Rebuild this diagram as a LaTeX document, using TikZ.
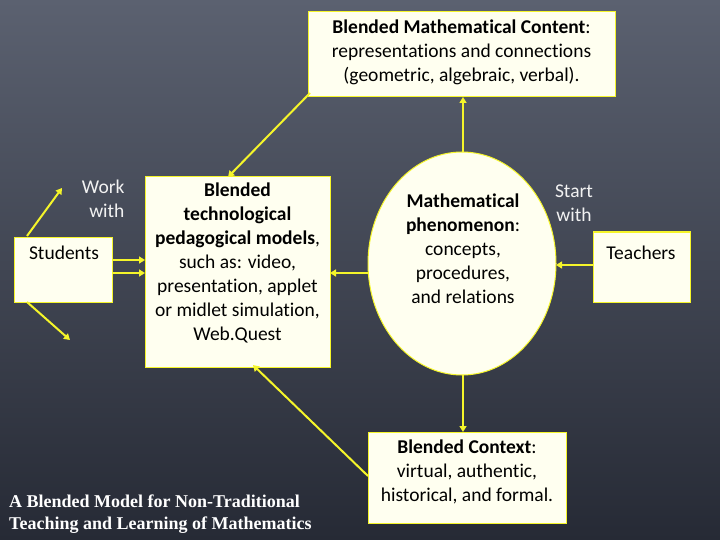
\documentclass[tikz,border=0pt]{standalone}
\usepackage{fontspec}
\setmainfont{Carlito}[Ligatures=NoCommon]
\newfontfamily\capfont{Liberation Serif}
\usetikzlibrary{shapes.geometric,arrows.meta}
\definecolor{bgtop}{HTML}{5B6170}
\definecolor{bgbot}{HTML}{262A35}
\definecolor{boxfill}{HTML}{FFFFF0}
\definecolor{ylw}{HTML}{F5F52A}
\begin{document}
\begin{tikzpicture}[x=1pt,y=-1pt,
  box/.style={draw=ylw,line width=1pt,fill=boxfill,inner sep=0pt},
  txt/.style={align=center,font=\fontsize{19.5}{24}\selectfont,text=black},
  wtxt/.style={align=center,font=\fontsize{19.5}{24}\selectfont,text=white!90!gray},
  arr/.style={draw=ylw,line width=2pt,-{Triangle[length=6pt,width=7pt]}}]
\shade[top color=bgtop,bottom color=bgbot] (0,0) rectangle (720,540);
\useasboundingbox (0,0) rectangle (720,540);
% boxes
\draw[box] (308,12) rectangle (615,97);
\node[txt] (top) at (461.5,52) {\textbf{Blended Mathematical Content}:\\representations and connections\\(geometric, algebraic, verbal).};
\draw[box] (14,237) rectangle (112,302);
\node[txt] (stud) at (64,253) {Students};
\draw[box] (145,177) rectangle (330,367);
\node[txt] (mid) at (237.5,263) {\textbf{Blended}\\\textbf{technological}\\\textbf{pedagogical models},\\such as: video,\\presentation, applet\\or midlet simulation,\\Web.Quest};
\draw[box] (462,263.5) ellipse (94 and 111.5);
\node[txt] (ell) at (463,249) {\textbf{Mathematical}\\\textbf{phenomenon}:\\concepts,\\procedures,\\and relations};
\draw[box] (593,232) rectangle (690,302);
\node[txt] (teach) at (641,253) {Teachers};
\draw[box] (368,432) rectangle (566,523);
\node[txt] (ctx) at (467,472) {\textbf{Blended Context}:\\virtual, authentic,\\historical, and formal.};
\node[wtxt,align=right,anchor=east] (work) at (128,199) {Work\\with};
\node[wtxt] (start) at (574,203) {Start\\with};
\node[anchor=west,align=left,text=white,font=\capfont\bfseries\fontsize{18}{22}\selectfont,inner sep=0pt] (cap) at (9,514) {A Blended Model for Non-Traditional\\Teaching and Learning of Mathematics};
% connector endpoints
\coordinate (a1) at (463,152); \coordinate (a2) at (463,97);
\coordinate (b1) at (310,93); \coordinate (b2) at (228,177);
\coordinate (c1) at (368,273); \coordinate (c2) at (330,273);
\coordinate (d1) at (112,260); \coordinate (d2) at (145,260);
\coordinate (e1) at (112,273); \coordinate (e2) at (145,273);
\coordinate (f1) at (593,265); \coordinate (f2) at (556,265);
\coordinate (g1) at (463,375); \coordinate (g2) at (463,432);
\coordinate (h1) at (368,476); \coordinate (h2) at (253,365);
\coordinate (i1) at (27,236); \coordinate (i2) at (62,188);
\coordinate (j1) at (27,302); \coordinate (j2) at (70,340);
\foreach \p/\q in {a1/a2,b1/b2,c1/c2,d1/d2,e1/e2,f1/f2,g1/g2,h1/h2,i1/i2,j1/j2}
  \draw[arr] (\p) -- (\q);
\end{tikzpicture}
\end{document}
